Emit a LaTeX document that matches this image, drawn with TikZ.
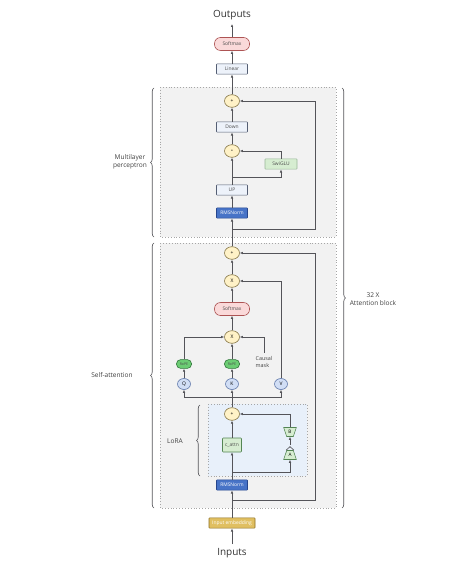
\documentclass[tikz,border=0pt]{standalone}
\usepackage{fontspec}
\setmainfont{Open Sans}
\usetikzlibrary{shapes, arrows.meta, calc, decorations.pathreplacing}
\usetikzlibrary{positioning}

\tikzset{
  wire/.style={draw=wirecol, line width=0.55pt},
  flow/.style={wire, -{Latex[length=2.6pt,width=2.2pt]}},
  block/.style={draw=gray!70, dotted, line width=0.45pt},
  box/.style={draw=boxline, fill=boxfill, line width=0.5pt, rounded corners=0.6pt,
    minimum width=0.93cm, minimum height=0.31cm, inner sep=0pt,
    font=\fontsize{4.2}{5}\selectfont, text=black!70},
  pill/.style={box, draw=pinkline, fill=pinkfill, rounded corners=0.18cm,
    minimum width=1.05cm, minimum height=0.39cm},
  opcircle/.style={ellipse, draw=opline, fill=opfill, line width=0.5pt, inner sep=0pt,
    minimum width=0.45cm, minimum height=0.38cm, font=\fontsize{4.2}{5}\selectfont},
  proj/.style={opcircle, draw=qline, fill=qfill, minimum width=0.39cm, minimum height=0.33cm},
  rope/.style={box, draw=ropeline, fill=ropefill, rounded corners=0.12cm,
    minimum width=0.45cm, minimum height=0.26cm, font=\fontsize{3}{4}\selectfont},
  greenbox/.style={box, draw=grline, fill=grfill},
  lora/.style={trapezium, trapezium stretches=true, draw=grline, fill=grfill, line width=0.5pt,
    minimum width=0.38cm, minimum height=0.27cm, inner sep=0pt, font=\fontsize{4}{5}\selectfont},
  sidelabel/.style={align=center, font=\fontsize{5.6}{7}\selectfont, text=black!75},
  curly/.style={wire, decorate, decoration={brace, amplitude=3pt}},
}

\begin{document}
\begin{tikzpicture}[x=0.03cm, y=-0.03cm]
    \definecolor{wirecol}{rgb}{0.33,0.33,0.35}
    \definecolor{boxline}{rgb}{0.33,0.37,0.45}
    \definecolor{boxfill}{rgb}{0.93,0.95,0.98}
    \definecolor{pinkline}{rgb}{0.68,0.33,0.33}
    \definecolor{pinkfill}{rgb}{0.98,0.85,0.85}
    \definecolor{opline}{rgb}{0.50,0.44,0.25}
    \definecolor{opfill}{rgb}{1.00,0.95,0.78}
    \definecolor{qline}{rgb}{0.36,0.46,0.66}
    \definecolor{qfill}{rgb}{0.82,0.87,0.96}
    \definecolor{ropeline}{rgb}{0.18,0.46,0.22}
    \definecolor{ropefill}{rgb}{0.42,0.80,0.45}
    \definecolor{grline}{rgb}{0.33,0.52,0.33}
    \definecolor{grfill}{rgb}{0.84,0.93,0.82}
    \definecolor{normline}{rgb}{0.15,0.27,0.55}
    \definecolor{normfill}{rgb}{0.28,0.45,0.78}
    \definecolor{embline}{rgb}{0.55,0.43,0.12}
    \definecolor{embfill}{rgb}{0.88,0.75,0.38}
    \definecolor{blockfill}{rgb}{0.95,0.95,0.95}
    \definecolor{lorafill}{rgb}{0.91,0.94,0.98}
    \useasboundingbox (0,0) rectangle (474,568);

    % blocks
    \fill[blockfill] (160,87) rectangle (336,237);
    \draw[block] (160,87) rectangle (336,237);
    \fill[blockfill] (160,243) rectangle (336,508);
    \draw[block] (160,243) rectangle (336,508);
    \fill[lorafill] (208,404) rectangle (307,476);
    \draw[block] (208,404) rectangle (307,476);

    % output side
    \node(outputs) at (232,15) [font=\fontsize{8.5}{10}\selectfont, text=black!80] {Outputs};
    \node(softmaxout) at (232,44) [pill] {Softmax};
    \node(linear) at (232,69) [box] {Linear};

    % multilayer perceptron
    \node(plusmlp) at (232,101) [opcircle] {+};
    \node(down) at (232,127) [box] {Down};
    \node(dotmlp) at (232,151) [opcircle] {•};
    \node(swiglu) at (281,164) [greenbox, minimum width=0.96cm, draw=grline!60] {SwiGLU};
    \node(up) at (232,190) [box] {UP};
    \node(normmlp) at (232,213) [box, draw=normline, fill=normfill, text=white] {RMSNorm};

    % self-attention
    \node(plusattn) at (232,253) [opcircle] {+};
    \node(xv) at (232,281) [opcircle] {X};
    \node(softmaxattn) at (232,309) [pill] {Softmax};
    \node(xqk) at (232,337) [opcircle] {X};
    \node(ropeq) at (184,364) [rope] {RoPE};
    \node(ropek) at (232,364) [rope] {RoPE};
    \node(causal) at (264,362) [sidelabel, align=left, font=\fontsize{4.6}{5.6}\selectfont] {Causal\\mask};
    \node(q) at (184,384) [proj] {Q};
    \node(k) at (232,384) [proj] {K};
    \node(v) at (281,384) [proj] {V};

    % LoRA
    \node(pluslora) at (232,414) [opcircle] {+};
    \node(cattn) at (232,445) [greenbox, minimum width=0.57cm, minimum height=0.42cm] {c\_attn};
    \node(b) at (290,432) [lora, trapezium left angle=112, trapezium right angle=112] {B};
    \node(a) at (290,455) [lora, trapezium left angle=68, trapezium right angle=68] {A};
    \node(normattn) at (232,485) [box, draw=normline, fill=normfill, text=white] {RMSNorm};

    % input side
    \node(embed) at (232,523) [box, draw=embline, fill=embfill, minimum width=1.38cm, text=white] {Input embedding};
    \node(inputs) at (232,553) [font=\fontsize{8.5}{10}\selectfont, text=black!80] {Inputs};

    % main flow
    \draw[flow] (inputs) -- (embed);
    \draw[flow] (embed) -- (normattn);
    \draw[flow] (normattn) -- (cattn);
    \draw[flow] (cattn) -- (pluslora);
    \draw[flow] (pluslora) -- (k);
    \draw[flow] (k) -- (ropek);
    \draw[flow] (ropek) -- (xqk);
    \draw[flow] (xqk) -- (softmaxattn);
    \draw[flow] (softmaxattn) -- (xv);
    \draw[flow] (xv) -- (plusattn);
    \draw[flow] (plusattn) -- (normmlp);
    \draw[flow] (normmlp) -- (up);
    \draw[flow] (up) -- (dotmlp);
    \draw[flow] (dotmlp) -- (down);
    \draw[flow] (down) -- (plusmlp);
    \draw[flow] (plusmlp) -- (linear);
    \draw[flow] (linear) -- (softmaxout);
    \draw[flow] (softmaxout) -- (outputs);

    % LoRA branch
    \coordinate (lorafork) at (232,472);
    \draw[flow] (lorafork) -| (a.south);
    \coordinate (atip) at ($(a.north)+(0,-5)$);
    \draw[curly] ($(a.north west)+(0,-1)$) -- ($(a.north east)+(0,-1)$);
    \draw[flow] (atip) -- (b.south);
    \draw[flow] (b.north) |- (pluslora.east);

    % q, k, v
    \coordinate (qkvfork) at (232,397);
    \draw[flow] (qkvfork) -| (q.south);
    \draw[flow] (qkvfork) -| (v.south);
    \draw[flow] (q) -- (ropeq);
    \draw[flow] (ropeq.north) |- (xqk.west);
    \draw[flow] (causal.north) |- (xqk.east);
    \draw[flow] (v.north) |- (xv.east);

    % swiglu branch
    \coordinate (glufork) at (232,177);
    \draw[flow] (glufork) -| (swiglu.south);
    \draw[flow] (swiglu.north) |- (dotmlp.east);

    % residuals
    \coordinate (resattn) at (232,500);
    \draw[flow] (resattn) -- (315,500) |- (plusattn.east);
    \coordinate (resmlp) at (232,229);
    \draw[flow] (resmlp) -- (315,229) |- (plusmlp.east);

    % braces
    \draw[curly] (154,237) -- (154,88);
    \node(mlplabel) at (130,162) [sidelabel] {Multilayer\\perceptron};
    \draw[curly] (154,508) -- (154,243);
    \node(attnlabel) at (112,375) [sidelabel] {Self-attention};
    \draw[curly] (200,476) -- (200,405);
    \node(loralabel) at (175,441) [sidelabel] {LoRA};
    \draw[curly] (342,88) -- (342,508);
    \node(blocklabel) at (373,299) [sidelabel] {32 X\\Attention block};
\end{tikzpicture}
\end{document}
